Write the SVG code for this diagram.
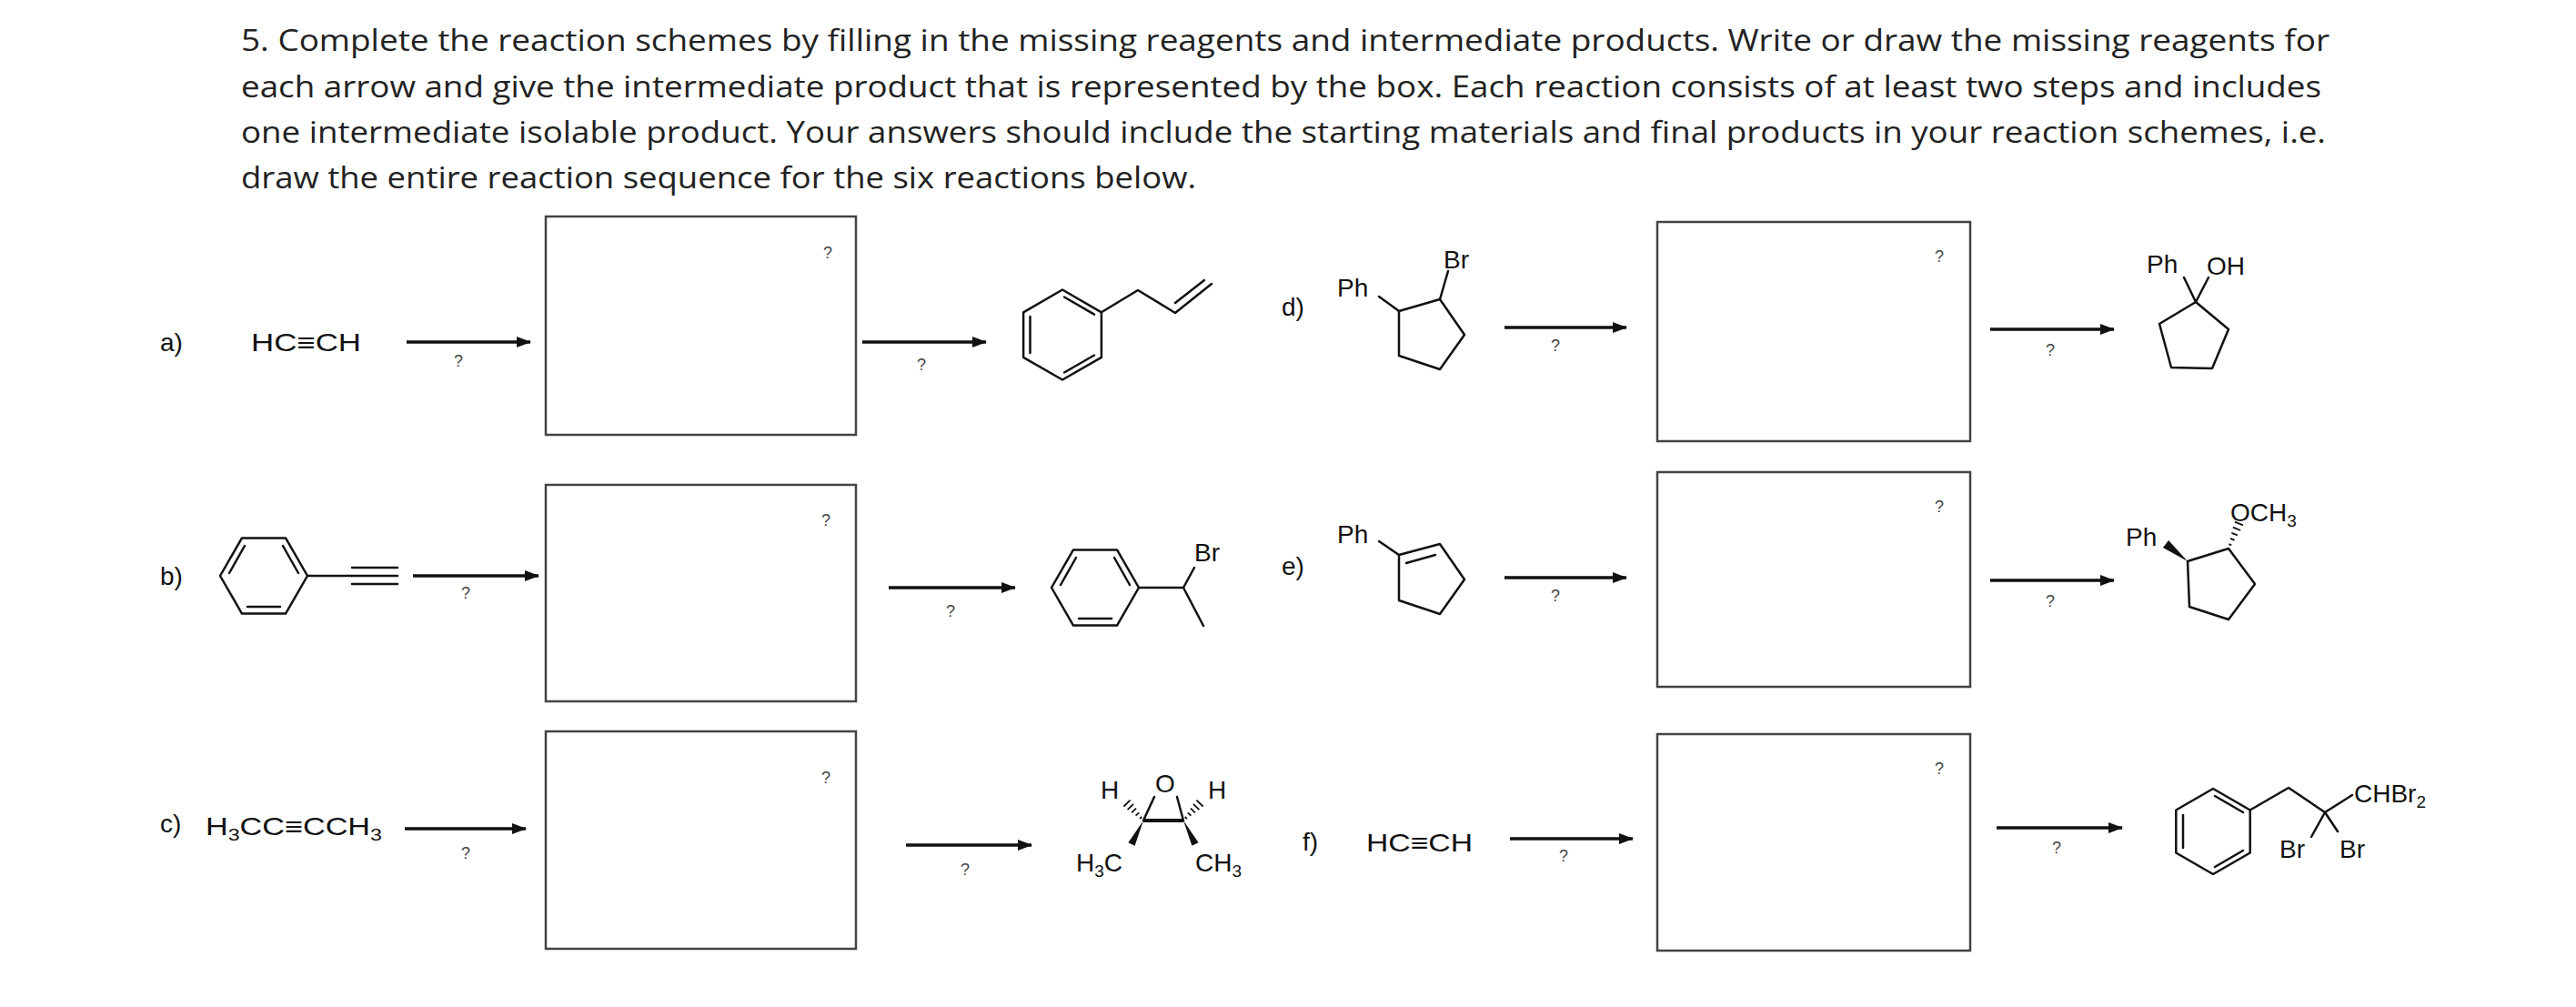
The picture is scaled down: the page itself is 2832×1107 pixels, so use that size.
<svg xmlns="http://www.w3.org/2000/svg" width="2832" height="1107" viewBox="0 0 2832 1107">
<style>
.hd{font-family:"Open Sans","Liberation Sans",sans-serif;font-size:33px;fill:#222}
.lb{font-family:"Liberation Sans",Arial,sans-serif;font-size:28px;fill:#111}
.sub{font-size:19px}
.q{font-family:"Liberation Sans",Arial,sans-serif;font-size:18px;fill:#444;text-anchor:middle}
.box{fill:none;stroke:#444;stroke-width:2.5}
.bd{fill:none;stroke:#111;stroke-width:2.5;stroke-linejoin:round;stroke-linecap:round}
.ar{stroke:#111;stroke-width:3.5;fill:none}
.hs{stroke:#111;stroke-width:1.8}
</style>
<defs>
<marker id="ah" markerUnits="userSpaceOnUse" markerWidth="16" markerHeight="12" refX="15" refY="6" orient="auto">
<path d="M0,0 L16,6 L0,12 Z" fill="#111"/>
</marker>
</defs>
<rect width="2832" height="1107" fill="#fff"/>
<g id="header">
<text class="hd" x="265" y="56" textLength="2296" lengthAdjust="spacingAndGlyphs">5. Complete the reaction schemes by filling in the missing reagents and intermediate products. Write or draw the missing reagents for</text>
<text class="hd" x="265" y="107" textLength="2287" lengthAdjust="spacingAndGlyphs">each arrow and give the intermediate product that is represented by the box. Each reaction consists of at least two steps and includes</text>
<text class="hd" x="265" y="157" textLength="2292" lengthAdjust="spacingAndGlyphs">one intermediate isolable product. Your answers should include the starting materials and final products in your reaction schemes, i.e.</text>
<text class="hd" x="265" y="207" textLength="1050" lengthAdjust="spacingAndGlyphs">draw the entire reaction sequence for the six reactions below.</text>
</g>
<g id="boxes">
<g id="box-a"><rect class="box" x="600" y="238" width="341" height="240"/><text class="q" x="910" y="284">?</text></g>
<g id="box-b"><rect class="box" x="600" y="533" width="341" height="238"/><text class="q" x="908" y="578">?</text></g>
<g id="box-c"><rect class="box" x="600" y="804" width="341" height="239"/><text class="q" x="908" y="861">?</text></g>
<g id="box-d"><rect class="box" x="1822" y="244" width="344" height="241"/><text class="q" x="2132" y="288">?</text></g>
<g id="box-e"><rect class="box" x="1822" y="519" width="344" height="236"/><text class="q" x="2132" y="563">?</text></g>
<g id="box-f"><rect class="box" x="1822" y="807" width="344" height="238"/><text class="q" x="2132" y="851">?</text></g>
</g>
<g id="connectors">
<line class="ar" x1="447" y1="376" x2="583" y2="376" marker-end="url(#ah)"/><text class="q" x="504" y="403">?</text>
<line class="ar" x1="948" y1="376" x2="1084" y2="376" marker-end="url(#ah)"/><text class="q" x="1013" y="407">?</text>
<line class="ar" x1="454" y1="633" x2="592" y2="633" marker-end="url(#ah)"/><text class="q" x="512" y="658">?</text>
<line class="ar" x1="977" y1="646" x2="1116" y2="646" marker-end="url(#ah)"/><text class="q" x="1045" y="678">?</text>
<line class="ar" x1="445" y1="911" x2="578" y2="911" marker-end="url(#ah)"/><text class="q" x="512" y="944">?</text>
<line class="ar" x1="996" y1="929" x2="1134" y2="929" marker-end="url(#ah)"/><text class="q" x="1061" y="962">?</text>
<line class="ar" x1="1654" y1="360" x2="1788" y2="360" marker-end="url(#ah)"/><text class="q" x="1710" y="386">?</text>
<line class="ar" x1="2188" y1="362" x2="2324" y2="362" marker-end="url(#ah)"/><text class="q" x="2254" y="391">?</text>
<line class="ar" x1="1654" y1="635" x2="1788" y2="635" marker-end="url(#ah)"/><text class="q" x="1710" y="661">?</text>
<line class="ar" x1="2188" y1="638" x2="2324" y2="638" marker-end="url(#ah)"/><text class="q" x="2254" y="667">?</text>
<line class="ar" x1="1660" y1="922" x2="1795" y2="922" marker-end="url(#ah)"/><text class="q" x="1719" y="947">?</text>
<line class="ar" x1="2195" y1="910" x2="2333" y2="910" marker-end="url(#ah)"/><text class="q" x="2261" y="938">?</text>
</g>
<g id="labels">
<text class="lb" x="176" y="386">a)</text>
<text class="lb" x="176" y="643">b)</text>
<text class="lb" x="176" y="915">c)</text>
<text class="lb" x="1409" y="347">d)</text>
<text class="lb" x="1409" y="632">e)</text>
<text class="lb" x="1432" y="935">f)</text>
</g>
<g id="a-start"><text class="lb" x="276" y="386" font-size="31" textLength="121" lengthAdjust="spacingAndGlyphs">HC≡CH</text></g>
<g id="a-product">
<polygon class="bd" points="1168,318.5 1210.9,343.3 1210.9,392.8 1168,417.5 1125.1,392.8 1125.1,343.3"/>
<path class="bd" d="M1170,326.5 L1203,345.6 M1203,390.5 L1170,409.5 M1132.5,388 L1132.5,348"/>
<polyline class="bd" points="1210.9,343.3 1251,319 1292,344 1332,312"/>
<line class="bd" x1="1292" y1="333" x2="1324" y2="308"/>
</g>
<g id="b-start">
<polygon class="bd" points="338,633 314,591.4 266,591.4 242,633 266,674.6 314,674.6"/>
<path class="bd" d="M311,600 L328,630 M269,600 L252,630 M272,667 L308,667"/>
<line class="bd" x1="338" y1="633" x2="387" y2="633"/>
<path class="bd" d="M387,624 L437,624 M387,633 L437,633 M387,642 L437,642"/>
</g>
<g id="b-product">
<polygon class="bd" points="1252,646 1228,604.4 1180,604.4 1156,646 1180,687.6 1228,687.6"/>
<path class="bd" d="M1225,613 L1242,643 M1183,613 L1166,643 M1186,680 L1222,680"/>
<polyline class="bd" points="1252,646 1301,646 1313,624"/>
<line class="bd" x1="1301" y1="646" x2="1323" y2="688"/>
<text class="lb" x="1313" y="617">Br</text>
</g>
<g id="c-start"><text class="lb" x="226" y="918" textLength="194" lengthAdjust="spacingAndGlyphs">H<tspan class="sub" dy="6">3</tspan><tspan dy="-6">CC≡CCH</tspan><tspan class="sub" dy="6">3</tspan></text></g>
<g id="c-product">
<text class="lb" x="1281" y="871" text-anchor="middle">O</text>
<line class="bd" x1="1269" y1="876" x2="1257" y2="902"/>
<line class="bd" x1="1294" y1="876" x2="1301" y2="902"/>
<line x1="1257" y1="902" x2="1301" y2="902" stroke="#111" stroke-width="4"/>
<path class="hs" d="M1253.1,900 L1255.3,898 M1248.6,896.7 L1252.2,893.3 M1244.1,893.4 L1249.1,888.6 M1239.6,890.1 L1246,883.9 M1235.4,886.5 L1242.6,879.6"/>
<path class="hs" d="M1304.9,900 L1302.7,898 M1309.4,896.7 L1305.8,893.3 M1313.9,893.4 L1308.9,888.6 M1318.4,890.1 L1312,883.9 M1322.6,886.5 L1315.4,879.6"/>
<polygon points="1257,902 1247.6,929.8 1240.4,926.2" fill="#111"/>
<polygon points="1301,902 1310.4,929.8 1317.6,926.2" fill="#111"/>
<text class="lb" x="1210" y="878">H</text>
<text class="lb" x="1328" y="878">H</text>
<text class="lb" x="1183" y="958">H<tspan class="sub" dy="6">3</tspan><tspan dy="-6">C</tspan></text>
<text class="lb" x="1314" y="958">CH<tspan class="sub" dy="6">3</tspan></text>
</g>
<g id="d-start">
<polygon class="bd" points="1538,342 1583,329 1610,368 1583,406 1538,391"/>
<line class="bd" x1="1538" y1="342" x2="1516" y2="326"/>
<line class="bd" x1="1583" y1="329" x2="1592" y2="298"/>
<text class="lb" x="1470" y="326">Ph</text>
<text class="lb" x="1587" y="295">Br</text>
</g>
<g id="d-product">
<polygon class="bd" points="2414,332 2450,362 2432,405 2387,404 2374,356"/>
<line class="bd" x1="2414" y1="332" x2="2401" y2="305"/>
<line class="bd" x1="2414" y1="332" x2="2428" y2="305"/>
<text class="lb" x="2360" y="300">Ph</text>
<text class="lb" x="2426" y="302">OH</text>
</g>
<g id="e-start">
<polygon class="bd" points="1538,610 1583,598 1610,637 1583,675 1538,660"/>
<line class="bd" x1="1546" y1="619" x2="1578" y2="610"/>
<line class="bd" x1="1538" y1="610" x2="1516" y2="595"/>
<text class="lb" x="1470" y="597">Ph</text>
</g>
<g id="e-product">
<polygon class="bd" points="2405,617 2450,603 2479,642 2450,681 2407,667"/>
<polygon points="2405,617 2384.1,594.1 2377.9,601.9" fill="#111"/>
<path class="hs" d="M2450.4,598.1 L2453.2,599.3 M2451.9,591.9 L2456.5,593.9 M2453.4,585.8 L2459.8,588.4 M2454.8,579.6 L2463.2,583 M2456.8,573.6 L2466,577.4"/>
<text class="lb" x="2337" y="600">Ph</text>
<text class="lb" x="2452" y="573">OCH<tspan class="sub" dy="6">3</tspan></text>
</g>
<g id="f-start"><text class="lb" x="1502" y="936" font-size="31" textLength="117" lengthAdjust="spacingAndGlyphs">HC≡CH</text></g>
<g id="f-product">
<polygon class="bd" points="2433,867 2473.7,890.5 2473.7,937.5 2433,961 2392.3,937.5 2392.3,890.5"/>
<path class="bd" d="M2435,875 L2466,893 M2466,935 L2435,953 M2400,932 L2400,896"/>
<polyline class="bd" points="2473.7,890.5 2516,866 2556,893 2586,874"/>
<line class="bd" x1="2556" y1="893" x2="2541" y2="920"/>
<line class="bd" x1="2556" y1="893" x2="2570" y2="914"/>
<text class="lb" x="2588" y="882">CHBr<tspan class="sub" dy="6">2</tspan></text>
<text class="lb" x="2506" y="943">Br</text>
<text class="lb" x="2572" y="943">Br</text>
</g>
</svg>
